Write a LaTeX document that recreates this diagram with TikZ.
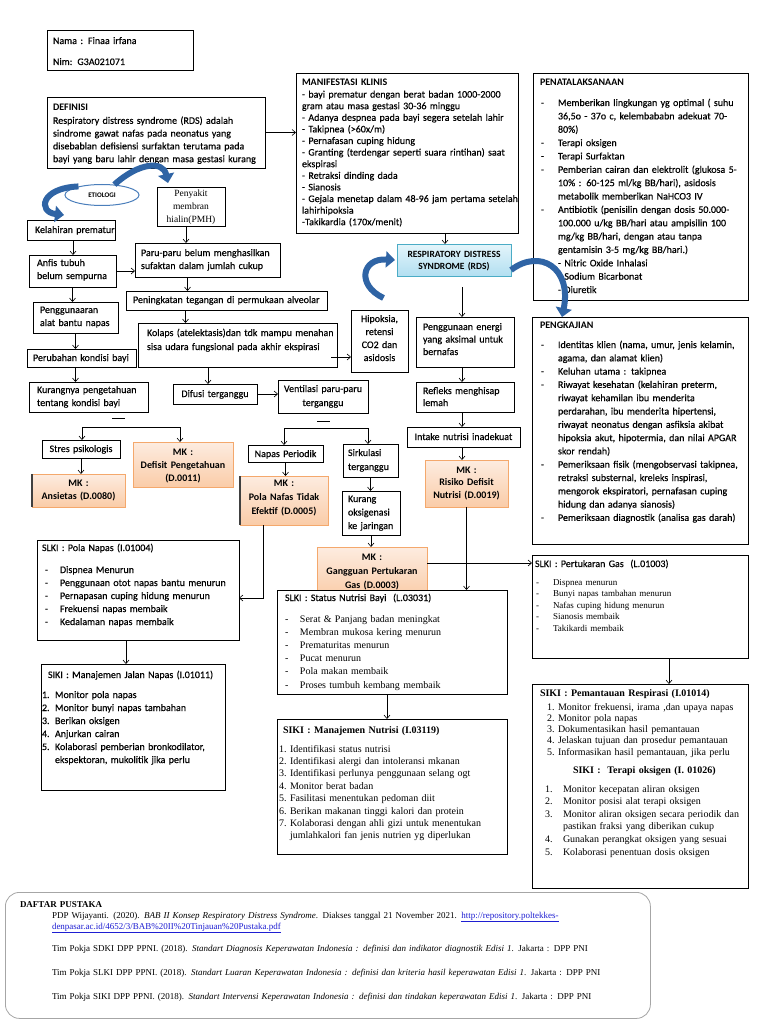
\documentclass[tikz,border=0pt]{standalone}
\usepackage{fontspec}
\setmainfont{Carlito}[UprightFeatures={FakeBold=0.35}]
\newfontfamily\tnr{Liberation Serif}
\usetikzlibrary{arrows.meta,shapes.geometric,calc}
\definecolor{arrblue}{RGB}{47,100,165}
\definecolor{ellblue}{RGB}{74,126,187}
\definecolor{mktop}{RGB}{253,236,224}
\definecolor{mkbot}{RGB}{250,204,168}
\definecolor{mkline}{RGB}{244,168,108}
\definecolor{rdstop}{RGB}{228,245,251}
\definecolor{rdsbot}{RGB}{178,223,241}
\definecolor{rdsline}{RGB}{75,172,198}
\definecolor{linkblue}{RGB}{30,30,210}
\newcommand\bbox[6][]{\node[bx,#1,anchor=north west,minimum width={#5-#3},minimum height={#6-#4}] (#2) at (#3,#4) {};}
\newcommand\fc[1]{\fontsize{10}{#1}\selectfont}
\newcommand\fT[2]{\tnr\fontsize{#1}{#2}\selectfont}
\newcommand\dl[1]{\makebox[#1][l]{-}}
\newcommand\nl[2]{\makebox[#1][l]{#2}}
\newcommand\il[1]{\hspace*{#1}}
\begin{document}
\begin{tikzpicture}[x=1pt,y=-1pt,
  bx/.style={draw=black,line width=0.8pt,inner sep=0pt,outer sep=0pt,fill=white},
  mk/.style={draw=mkline,line width=1pt,top color=mktop,bottom color=mkbot},
  rds/.style={draw=rdsline,line width=1pt,top color=rdstop,bottom color=rdsbot},
  tx/.style={inner sep=0pt,outer sep=0pt,anchor=base west,align=left,text width=300pt},
  tc/.style={inner sep=0pt,outer sep=0pt,anchor=base,align=center,text width=#1},
  mkt/.style={tc=#1,font=\fontsize{10}{13.5}\selectfont\bfseries},
  ar/.style={draw=black,line width=0.6pt,-{Straight Barb[length=3.5pt,width=6pt]}},
  ln/.style={draw=black,line width=0.6pt},
  carrow/.style={draw=arrblue,line width=6pt,-{Triangle[length=9pt,width=16pt]}},
]
\fill[white] (0,0) rectangle (768,1024);
\useasboundingbox (0,0) rectangle (768,1024);

% ---------- top ----------
\bbox{namebx}{47}{30}{193}{70}
\node[tx,font=\fc{21}] (namet) at (53,44) {Nama : Finaa irfana\\Nim: G3A021071};

\bbox{def}{47}{97}{265}{168}
\node[tx,font=\fc{12.8}] (deft) at (53,111) {\textbf{DEFINISI}\\Respiratory distress syndrome (RDS) adalah\\sindrome gawat nafas pada neonatus yang\\disebablan defisiensi surfaktan terutama pada\\bayi yang baru lahir dengan masa gestasi kurang};

\bbox{man}{296}{73}{518}{233}
\node[tx,font=\fc{11.6}] (mant) at (302,86) {\textbf{MANIFESTASI KLINIS}\\- bayi prematur dengan berat badan 1000-2000\\gram atau masa gestasi 30-36 minggu\\- Adanya despnea pada bayi segera setelah lahir\\- Takipnea (>60x/m)\\- Pernafasan cuping hidung\\- Granting (terdengar seperti suara rintihan) saat\\ekspirasi\\- Retraksi dinding dada\\- Sianosis\\- Gejala menetap dalam 48-96 jam pertama setelah\\lahirhipoksia\\-Takikardia (170x/menit)};

\bbox{pen}{533}{73}{748}{300}
\node[tx,font=\fc{12}] (penh) at (540,86) {\textbf{PENATALAKSANAAN}};
\node[tx,font=\fc{13.36}] (penl) at (541,106) {\dl{17pt}Memberikan lingkungan yg optimal ( suhu\\
\il{17pt}36,5o - 37o c, kelembababn adekuat 70-\\
\il{17pt}80\%)\\
\dl{17pt}Terapi oksigen\\
\dl{17pt}Terapi Surfaktan\\
\dl{17pt}Pemberian cairan dan elektrolit (glukosa 5-\\
\il{17pt}10\% : 60-125 ml/kg BB/hari), asidosis\\
\il{17pt}metabolik memberikan NaHCO3 IV\\
\dl{17pt}Antibiotik (penisilin dengan dosis 50.000-\\
\il{17pt}100.000 u/kg BB/hari atau ampisilin 100\\
\il{17pt}mg/kg BB/hari, dengan atau tanpa\\
\il{17pt}gentamisin 3-5 mg/kg BB/hari.)\\
\il{17pt}- Nitric Oxide Inhalasi\\
\il{17pt}- Sodium Bicarbonat\\
\il{17pt}- Diuretik};

\bbox[rds]{rds}{397}{244}{511}{276}
\node[tc=114pt,font=\fontsize{9.5}{13}\selectfont\bfseries] (rdst) at (454,257) {RESPIRATORY DISTRESS\\SYNDROME (RDS)};

\node[draw=ellblue,line width=1pt,ellipse,minimum width=74pt,minimum height=21pt,inner sep=0pt,fill=white,font=\fontsize{7}{8}\selectfont\bfseries] (eti) at (102,195) {ETIOLOGI};

% ---------- left chain ----------
\bbox{pmh}{157}{187}{225}{226}
\node[tc=68pt,font=\fT{9.5}{12.5}] (pmht) at (191,197) {Penyakit\\membran\\hialin(PMH)};

\bbox{kel}{27}{220}{115}{240}
\node[tx,font=\fc{12}] (kelt) at (35,233) {Kelahiran prematur};

\bbox{anf}{29}{255}{116}{287}
\node[tx,font=\fc{13}] (anft) at (37,266) {Anfis tubuh\\belum sempurna};

\bbox{paru}{135}{243}{280}{277}
\node[tx,font=\fc{13}] (parut) at (141,256) {Paru-paru belum menghasilkan\\sufaktan dalam jumlah cukup};

\bbox{pen2}{126}{291}{327}{310}
\node[tx,font=\fc{12}] (pen2t) at (133,303) {Peningkatan tegangan di permukaan alveolar};

\bbox{alat}{33}{302}{118}{333}
\node[tx,font=\fc{13}] (alatt) at (40,313) {Penggunaaran\\alat bantu napas};

\bbox{kol}{138}{323}{337}{367}
\node[tx,font=\fc{14}] (kolt) at (147,336) {Kolaps (atelektasis)dan tdk mampu menahan\\sisa udara fungsional pada akhir ekspirasi};

\bbox{hip}{351}{310}{408}{372}
\node[tc=57pt,font=\fc{13}] (hipt) at (379.5,322) {Hipoksia,\\retensi\\CO2 dan\\asidosis};

\bbox{perub}{27}{349}{136}{367}
\node[tx,font=\fc{12}] (perubt) at (33,361) {Perubahan kondisi bayi};

\bbox{kur}{29}{382}{148}{412}
\node[tx,font=\fc{13}] (kurt) at (37,393) {Kurangnya pengetahuan\\tentang kondisi bayi};

\bbox{dif}{173}{384}{257}{404}
\node[tc=84pt,font=\fc{12}] (dift) at (215,397) {Difusi terganggu};

\bbox{ven}{278}{380}{368}{413}
\node[tc=90pt,font=\fc{14}] (vent) at (323,392) {Ventilasi paru-paru\\terganggu};

\draw[ln] (112,418) -- (125,418);
\draw[ln] (317,421) -- (330,421);

\bbox{stres}{42}{440}{120}{458}
\node[tc=78pt,font=\fc{12}] (strest) at (81,452) {Stres psikologis};

\bbox[mk]{ans}{32}{474}{125}{507}
\draw[black!75,line width=1.3pt] (ans.north west) -- (ans.south west);
\node[mkt=93pt] (anst) at (78.5,486) {MK :\\Ansietas (D.0080)};

\bbox[mk]{defp}{133}{442}{233}{487}
\node[mkt=100pt,font=\fontsize{10}{13}\selectfont\bfseries] (defpt) at (183,455) {MK :\\Defisit Pengetahuan\\(D.0011)};

\bbox{nper}{248}{445}{323}{462}
\node[tc=75pt,font=\fc{12}] (npert) at (285.5,457) {Napas Periodik};

\bbox[mk]{pola}{240}{476}{328}{525}
\draw[black!75,line width=1.3pt] (pola.north west) -- (pola.south west);
\node[mkt=88pt,font=\fontsize{10}{14}\selectfont\bfseries] (polat) at (284,486) {MK :\\Pola Nafas Tidak\\Efektif (D.0005)};

\bbox{sirk}{343}{444}{398}{477}
\node[tx,font=\fc{14}] (sirkt) at (348,456) {Sirkulasi\\terganggu};

\bbox{koks}{342}{491}{400}{535}
\node[tx,font=\fc{13.5}] (kokst) at (348,502) {Kurang\\oksigenasi\\ke jaringan};

\bbox[mk]{gang}{317}{547}{427}{597}
\node[mkt=110pt,font=\fontsize{10}{14}\selectfont\bfseries] (gangt) at (372,560) {MK :\\Gangguan Pertukaran\\Gas (D.0003)};

% ---------- right chain ----------
\bbox{energi}{416}{317}{514}{367}
\node[tx,font=\fc{12.5}] (energit) at (423,330) {Penggunaan energi\\yang aksimal untuk\\bernafas};

\bbox{ref}{416}{382}{514}{412}
\node[tx,font=\fc{12}] (reft) at (423,394) {Refleks menghisap\\lemah};

\bbox{intake}{407}{427}{520}{447}
\node[tc=113pt,font=\fc{12}] (intaket) at (463.5,440) {Intake nutrisi inadekuat};

\bbox[mk]{ris}{425}{460}{508}{507}
\node[mkt=83pt,font=\fontsize{10}{12.5}\selectfont\bfseries] (rist) at (466.5,473) {MK :\\Risiko Defisit\\Nutrisi (D.0019)};

\bbox{peng}{532}{317}{748}{544}
\node[tx,font=\fc{12}] (pengh) at (540,328) {\textbf{PENGKAJIAN}};
\node[tx,font=\fc{13.3}] (pengl) at (541,348) {\dl{17pt}Identitas klien (nama, umur, jenis kelamin,\\
\il{17pt}agama, dan alamat klien)\\
\dl{17pt}Keluhan utama : takipnea\\
\dl{17pt}Riwayat kesehatan (kelahiran preterm,\\
\il{17pt}riwayat kehamilan ibu menderita\\
\il{17pt}perdarahan, ibu menderita hipertensi,\\
\il{17pt}riwayat neonatus dengan asfiksia akibat\\
\il{17pt}hipoksia akut, hipotermia, dan nilai APGAR\\
\il{17pt}skor rendah)\\
\dl{17pt}Pemeriksaan fisik (mengobservasi takipnea,\\
\il{17pt}retraksi substernal, kreleks inspirasi,\\
\il{17pt}mengorok ekspiratori, pernafasan cuping\\
\il{17pt}hidung dan adanya sianosis)\\
\dl{17pt}Pemeriksaan diagnostik (analisa gas darah)};

% ---------- outcome / intervention boxes ----------
\bbox{slkip}{37}{540}{239}{640}
\node[tx,font=\fc{12}] (slkiph) at (42,551) {SLKI : Pola Napas (I.01004)};
\node[tx,font=\fc{13}] (slkipl) at (45,573) {\dl{15pt}Dispnea Menurun\\
\dl{15pt}Penggunaan otot napas bantu menurun\\
\dl{15pt}Pernapasan cuping hidung menurun\\
\dl{15pt}Frekuensi napas membaik\\
\dl{15pt}Kedalaman napas membaik};

\bbox{sikij}{41}{664}{225}{790}
\node[tx,font=\fc{12}] (sikijh) at (48,678) {SIKI : Manajemen Jalan Napas (I.01011)};
\node[tx,font=\fc{13}] (sikijl) at (42,698) {\nl{13pt}{1.}Monitor pola napas\\
\nl{13pt}{2.}Monitor bunyi napas tambahan\\
\nl{13pt}{3.}Berikan oksigen\\
\nl{13pt}{4.}Anjurkan cairan\\
\nl{13pt}{5.}Kolaborasi pemberian bronkodilator,\\
\il{13pt}ekspektoran, mukolitik jika perlu};

\bbox{slkis}{277}{590}{507}{694}
\node[tx,font=\fc{12}] (slkish) at (285,601) {SLKI : Status Nutrisi Bayi~~(L.03031)};
\node[tx,font=\fT{10}{13.2}] (slkisl) at (285,622) {\dl{15pt}Serat \& Panjang badan meningkat\\
\dl{15pt}Membran mukosa kering menurun\\
\dl{15pt}Prematuritas menurun\\
\dl{15pt}Pucat menurun\\
\dl{15pt}Pola makan membaik\\
\dl{15pt}Proses tumbuh kembang membaik};

\bbox{sikin}{277}{719}{507}{854}
\node[tx,font=\fT{10}{12}] (sikinh) at (283,733) {\textbf{SIKI : Manajemen Nutrisi (I.03119)}};
\node[tx,font=\fT{10}{12.4}] (sikinl) at (279,752) {\nl{11pt}{1.}Identifikasi status nutrisi\\
\nl{11pt}{2.}Identifikasi alergi dan intoleransi mkanan\\
\nl{11pt}{3.}Identifikasi perlunya penggunaan selang ogt\\
\nl{11pt}{4.}Monitor berat badan\\
\nl{11pt}{5.}Fasilitasi menentukan pedoman diit\\
\nl{11pt}{6.}Berikan makanan tinggi kalori dan protein\\
\nl{11pt}{7.}Kolaborasi dengan ahli gizi untuk menentukan\\
\il{11pt}jumlahkalori fan jenis nutrien yg diperlukan};

\bbox{slkig}{532}{555}{748}{658}
\node[tx,font=\fc{12}] (slkigh) at (535,567) {SLKI : Pertukaran Gas~~(L.01003)};
\node[tx,font=\fT{9}{11.6}] (slkigl) at (536,585) {\dl{17pt}Dispnea menurun\\
\dl{17pt}Bunyi napas tambahan menurun\\
\dl{17pt}Nafas cuping hidung menurun\\
\dl{17pt}Sianosis membaik\\
\dl{17pt}Takikardi membaik};

\bbox{sikir}{532}{684}{748}{888}
\node[tx,font=\fT{10}{12}] (sikirh) at (540,696) {\textbf{SIKI : Pemantauan Respirasi (I.01014)}};
\node[tx,font=\fT{10}{11.3}] (sikirl) at (547,710) {\nl{11pt}{1.}Monitor frekuensi, irama ,dan upaya napas\\
\nl{11pt}{2.}Monitor pola napas\\
\nl{11pt}{3.}Dokumentasikan hasil pemantauan\\
\nl{11pt}{4.}Jelaskan tujuan dan prosedur pemantauan\\
\nl{11pt}{5.}Informasikan hasil pemantauan, jika perlu};
\node[tx,font=\fT{10}{12}] (sikioh) at (573,773) {\textbf{SIKI :~ Terapi oksigen (I. 01026)}};
\node[tx,font=\fT{10}{12.6}] (sikiol) at (545,792) {\nl{18pt}{1.}Monitor kecepatan aliran oksigen\\
\nl{18pt}{2.}Monitor posisi alat terapi oksigen\\
\nl{18pt}{3.}Monitor aliran oksigen secara periodik dan\\
\il{18pt}pastikan fraksi yang diberikan cukup\\
\nl{18pt}{4.}Gunakan perangkat oksigen yang sesuai\\
\nl{18pt}{5.}Kolaborasi penentuan dosis oksigen};

% ---------- references ----------
\node[draw=gray!70,line width=0.8pt,rounded corners=14pt,anchor=north west,minimum width=645pt,minimum height=126pt,inner sep=0pt] (dp) at (5,892) {};
\node[tx,font=\fT{9}{11}] (dph) at (20,907) {\textbf{DAFTAR PUSTAKA}};
\node[tx,text width=620pt,font=\fT{9}{11}] (dp1) at (52,918) {\makebox[593pt][s]{PDP Wijayanti. (2020). \textit{BAB II Konsep Respiratory Distress Syndrome}. Diakses tanggal 21 November 2021. \textcolor{linkblue}{\underline{http://repository.poltekkes-}}}\\\textcolor{linkblue}{\underline{denpasar.ac.id/4652/3/BAB\%20II\%20Tinjauan\%20Pustaka.pdf}}};
\node[tx,text width=620pt,font=\fT{9}{11}] (dp2) at (52,951) {Tim Pokja SDKI DPP PPNI. (2018). \textit{Standart Diagnosis Keperawatan Indonesia : definisi dan indikator diagnostik Edisi 1}. Jakarta : DPP PNI};
\node[tx,text width=620pt,font=\fT{9}{11}] (dp3) at (52,975) {Tim Pokja SLKI DPP PPNI. (2018). \textit{Standart Luaran Keperawatan Indonesia : definisi dan kriteria hasil keperawatan Edisi 1}. Jakarta : DPP PNI};
\node[tx,text width=620pt,font=\fT{9}{11}] (dp4) at (52,999) {Tim Pokja SIKI DPP PPNI. (2018). \textit{Standart Intervensi Keperawatan Indonesia : definisi dan tindakan keperawatan Edisi 1}. Jakarta : DPP PNI};

% ---------- connectors ----------
\draw[ar] (def.east) -- (def.east -| man.west);
\coordinate (c1) at ([xshift=-9pt]rds.north);
\draw[ar] (c1 |- man.south) -- (c1);
\coordinate (c2) at ([xshift=2pt]kel.south);
\draw[ar] (c2) -- (c2 |- anf.north);
\coordinate (c3) at ([xshift=-5pt]pmh.south);
\draw[ar] (c3) -- (c3 |- paru.north);
\draw[ar] (anf.east) -- (anf.east -| paru.west);
\coordinate (c4) at ([xshift=-20pt]paru.south);
\draw[ar] (c4) -- (c4 |- pen2.north);
\draw[ar] (anf.south) -- (anf.south |- alat.north);
\coordinate (c5) at ([xshift=-41pt]pen2.south);
\draw[ar] (c5) -- (c5 |- kol.north);
\coordinate (c6) at ([xshift=-6pt,yshift=10pt]kol.south east);
\draw[ar] (c6) -- (c6 -| hip.west);
\draw[ar] (alat.south) -- (alat.south |- perub.north);
\coordinate (c7) at ([xshift=-6pt]perub.south);
\draw[ar] (c7) -- (c7 |- kur.north);
\coordinate (c8) at ([xshift=-7pt]dif.north);
\draw[ar] (c8 |- kol.south) -- (c8);
\draw[ar] (dif.east) -- (dif.east -| ven.west);

\coordinate (b1l) at (82,427);
\coordinate (b1r) at (180,427);
\draw[ln] (b1l) -- (b1r);
\draw[ar] (b1l) -- (b1l |- stres.north);
\draw[ar] (b1r) -- (b1r |- defp.north);
\draw[ar] (stres.south) -- (stres.south |- ans.north);
\coordinate (b2l) at (284,428);
\coordinate (b2r) at (368,428);
\draw[ln] (b2l) -- (b2r);
\draw[ar] (b2l) -- (b2l |- nper.north);
\draw[ar] (b2r) -- (b2r |- sirk.north);
\draw[ar] (nper.south) -- (nper.south |- pola.north);
\draw[ar] (sirk.south) -- (sirk.south |- koks.north);
\draw[ar] (koks.south) -- (koks.south |- gang.north);

\coordinate (c9) at ([xshift=8pt]rds.south);
\draw[ar,shorten <=11pt] (c9) -- (c9 |- energi.north);
\coordinate (c10) at ([xshift=-3pt]energi.south);
\draw[ar] (c10) -- (c10 |- ref.north);
\draw[ar] (c10 |- ref.south) -- (c10 |- intake.north);
\draw[ar] (c10 |- intake.south) -- (c10 |- ris.north);
\draw[ar] (ris.south) -- (ris.south |- slkis.north);
\coordinate (c11) at ([xshift=-21pt]pola.south);
\draw[ar] (c11) |- ([yshift=-8pt]slkip.east);
\coordinate (c12) at ([yshift=9pt]gang.east);
\draw[ar] (c12) -- (c12 -| slkig.west);
\coordinate (c13) at ([xshift=-12pt]slkip.south);
\draw[ar] (c13) -- (c13 |- sikij.north);
\coordinate (c14) at ([xshift=-5pt]slkis.south);
\draw[ar] (c14) -- (c14 |- sikin.north);
\coordinate (c15) at ([xshift=29pt]slkig.south);
\draw[ar] (c15) -- (c15 |- sikir.north);

% ---------- blue curved arrows ----------
\draw[carrow] (eti.160) .. controls (40,188) and (38,212) .. ([xshift=37pt,yshift=5pt]kel.north west);
\draw[carrow] (eti.40) .. controls (138,163) and (163,160) .. ([xshift=11pt,yshift=4pt]pmh.north west);
\draw[carrow] ([xshift=4pt,yshift=12pt]hip.north) .. controls (356,285) and (362,258) .. ([xshift=-2pt]rds.west);
\draw[carrow] ([yshift=-10pt]rds.east) .. controls (540,248) and (572,268) .. ([xshift=30pt]peng.north west);
\end{tikzpicture}
\end{document}
